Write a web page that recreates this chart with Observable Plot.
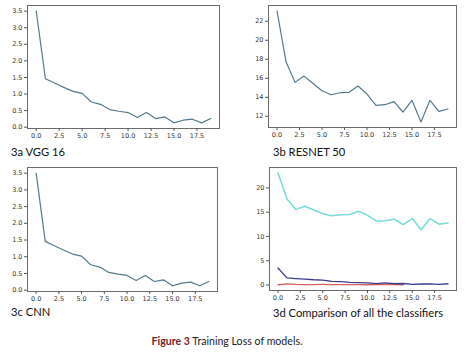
<!DOCTYPE html>
<html>
<head>
<meta charset="utf-8">
<script src="https://cdn.jsdelivr.net/npm/d3@7"></script>
<script src="https://cdn.jsdelivr.net/npm/@observablehq/plot@0.6"></script>
<style>
  html, body { margin: 0; padding: 0; background: #fff; }
  #root { position: relative; width: 474px; height: 361px; overflow: hidden; font-family: Lato, sans-serif; }
  .panel { position: absolute; }
  .title { position: absolute; font-family: Lato, sans-serif; font-size: 11.2px; color: #111; white-space: nowrap; line-height: 1; }
  .caption { position: absolute; left: 0; width: 454px; top: 335px; text-align: center; font-family: Lato, sans-serif; font-size: 10.6px; color: #222; }
  .caption b { color: #7a1b28; }
</style>
</head>
<body>
<div id="root"></div>
<script>
// Epochs
const epochs = d3.range(20);
const epochsShort = d3.range(15);
// Training loss series
const vggLoss = [3.5, 1.46, 1.33, 1.2, 1.08, 1.02, 0.76, 0.69, 0.53, 0.48, 0.44, 0.29, 0.44, 0.26, 0.31, 0.13, 0.21, 0.24, 0.13, 0.26];
const resnetLoss = [23.08, 17.73, 15.57, 16.23, 15.46, 14.69, 14.27, 14.48, 14.52, 15.18, 14.34, 13.15, 13.22, 13.54, 12.45, 13.68, 11.4, 13.68, 12.52, 12.77];
const cnnLoss = [3.5, 1.46, 1.33, 1.2, 1.08, 1.02, 0.76, 0.69, 0.53, 0.48, 0.44, 0.29, 0.44, 0.26, 0.31, 0.13, 0.21, 0.24, 0.13, 0.26];
const otherLoss = [0.05, 0.22, 0.12, 0.08, 0.1, 0.12, 0.1, 0.08, 0.1, 0.06, 0.05, 0.08, 0.15, 0.1, 0.05];
// Tick labels
const xTicks = [0, 2.5, 5, 7.5, 10, 12.5, 15, 17.5];
const yTicksSmall = [0, 0.5, 1, 1.5, 2, 2.5, 3, 3.5];
const yTicksResnet = [12, 14, 16, 18, 20, 22];
const yTicksAll = [0, 5, 10, 15, 20];
// Titles
const titles = ["3a VGG 16", "3b RESNET 50", "3c CNN", "3d Comparison of all the classifiers"];

const lineColor = "#54798c";
const root = document.getElementById("root");

function toRows(ys) { return ys.map((y, i) => ({x: epochs[i], y})); }

function panel({left, top, width, height, mL, mR, mT, mB, yDomain, yTicks, yFmt, series}) {
  const marks = [
    Plot.frame({stroke: "#6b6b6b", strokeWidth: 1}),
    Plot.axisX({ticks: xTicks, tickFormat: d3.format(".1f"), tickSize: 3, tickPadding: 2, fontSize: 6.5, stroke: "#555", color: "#333", label: null}),
    Plot.axisY({ticks: yTicks, tickFormat: yFmt, tickSize: 3, tickPadding: 2, fontSize: 6.5, stroke: "#555", color: "#333", label: null}),
    ...series.map(s => Plot.line(s.data, {x: "x", y: "y", stroke: s.color, strokeWidth: s.width || 1.2}))
  ];
  const svg = Plot.plot({
    width, height,
    marginLeft: mL, marginRight: mR, marginTop: mT, marginBottom: mB,
    x: {domain: [-0.95, 19.95], label: null},
    y: {domain: yDomain, label: null},
    style: {background: "transparent", fontFamily: "'DejaVu Sans', sans-serif", color: "#333"},
    marks
  });
  const wrap = document.createElement("div");
  wrap.className = "panel";
  wrap.style.left = left + "px";
  wrap.style.top = top + "px";
  wrap.appendChild(svg);
  root.appendChild(wrap);
}

panel({left: 0, top: 0, width: 230, height: 145, mL: 27, mR: 11, mT: 5, mB: 17,
  yDomain: [-0.04, 3.67], yTicks: yTicksSmall, yFmt: d3.format(".1f"),
  series: [{data: toRows(vggLoss), color: lineColor}]});

panel({left: 237, top: 0, width: 230, height: 145, mL: 31, mR: 11, mT: 5, mB: 18,
  yDomain: [10.82, 23.66], yTicks: yTicksResnet, yFmt: d3.format("d"),
  series: [{data: toRows(resnetLoss), color: lineColor}]});

panel({left: 0, top: 160, width: 230, height: 145, mL: 27, mR: 13, mT: 7, mB: 14,
  yDomain: [-0.04, 3.67], yTicks: yTicksSmall, yFmt: d3.format(".1f"),
  series: [{data: toRows(cnnLoss), color: lineColor}]});

panel({left: 237, top: 160, width: 230, height: 145, mL: 32, mR: 11, mT: 7, mB: 15,
  yDomain: [-1.13, 24.2], yTicks: yTicksAll, yFmt: d3.format("d"),
  series: [
    {data: toRows(resnetLoss), color: "#74dcd6", width: 1.5},
    {data: epochsShort.map(i => ({x: i, y: otherLoss[i]})), color: "#d2615b", width: 1.3},
    {data: toRows(vggLoss), color: "#3d3b8e", width: 1.3}
  ]});

const titlePos = [[11, 146], [273, 146], [11, 306], [273, 307]];
titles.forEach((t, i) => {
  const d = document.createElement("div");
  d.className = "title";
  d.textContent = t;
  d.style.left = titlePos[i][0] + "px";
  d.style.top = titlePos[i][1] + "px";
  root.appendChild(d);
});

const cap = document.createElement("div");
cap.className = "caption";
cap.innerHTML = "<b>Figure 3</b> Training Loss of models.";
root.appendChild(cap);
</script>
</body>
</html>
